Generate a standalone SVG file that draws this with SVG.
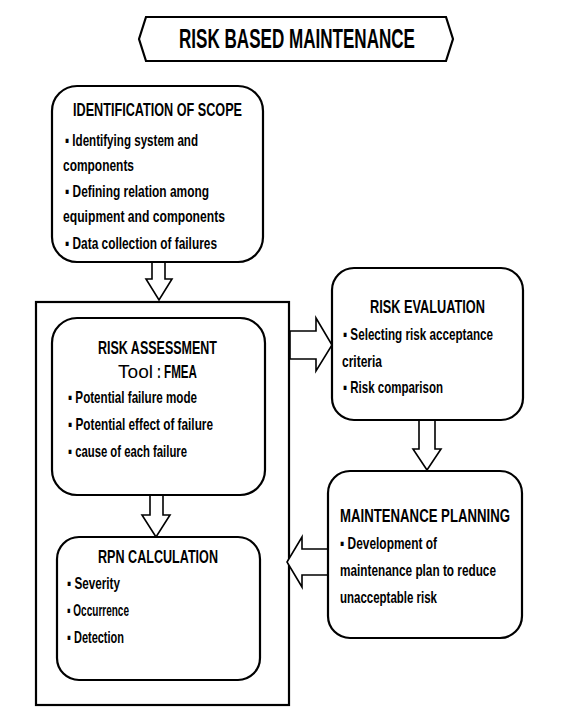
<svg xmlns="http://www.w3.org/2000/svg" width="573" height="715" viewBox="0 0 573 715">
<style>
.box{fill:#fff;stroke:#000;stroke-width:2.2}
.arr{fill:#fff;stroke:#000;stroke-width:1.6;stroke-linejoin:miter}
text{font-family:"Liberation Sans",Arial,sans-serif;font-weight:bold;fill:#000}
.h{font-size:17.5px}
.t{font-size:17px}
.n{font-weight:normal}
</style>
<rect width="573" height="715" fill="#fff"/>
<g id="title">
<polygon class="box" points="139,39 146,17 446,17 453,39 446,61 146,61"/>
<text x="179" y="48" font-size="27" textLength="236" lengthAdjust="spacingAndGlyphs">RISK BASED MAINTENANCE</text>
</g>
<g id="container">
<rect class="box" x="36" y="302" width="253" height="403"/>
</g>
<g id="connectors">
<polygon class="arr" points="152,262 165,262 165,279 172,279 159,300 146,279 152,279"/>
<polygon class="arr" points="150,495 163,495 163,515 170,515 156,537 142,515 150,515"/>
<polygon class="arr" points="290,331 316,331 316,318 332,345 316,371 316,359 290,359"/>
<polygon class="arr" points="419,420 435,420 435,449 441,449 427,470 413,449 419,449"/>
<polygon class="arr" points="328,549 302,549 302,537 287,562 302,587 302,575 328,575"/>
</g>
<g id="identification">
<rect class="box" x="52" y="86" width="211" height="176" rx="25" ry="25"/>
<text class="h" x="73" y="116" textLength="169" lengthAdjust="spacingAndGlyphs">IDENTIFICATION OF SCOPE</text>
<text class="t" x="65" y="146" textLength="133" lengthAdjust="spacingAndGlyphs">▪ Identifying system and</text>
<text class="t" x="63" y="171" textLength="71" lengthAdjust="spacingAndGlyphs">components</text>
<text class="t" x="65" y="197" textLength="144" lengthAdjust="spacingAndGlyphs">▪ Defining relation among</text>
<text class="t" x="63" y="222" textLength="162" lengthAdjust="spacingAndGlyphs">equipment and components</text>
<text class="t" x="65" y="249" textLength="152" lengthAdjust="spacingAndGlyphs">▪ Data collection of failures</text>
</g>
<g id="risk-assessment">
<rect class="box" x="52" y="318" width="213" height="177" rx="25" ry="25"/>
<text class="h" x="98" y="354" textLength="119" lengthAdjust="spacingAndGlyphs">RISK ASSESSMENT</text>
<text class="n" x="118" y="378" font-size="18" textLength="35" lengthAdjust="spacingAndGlyphs">Tool</text>
<text x="157" y="378" font-size="18" textLength="40" lengthAdjust="spacingAndGlyphs">: FMEA</text>
<text class="t" x="68" y="403" textLength="129" lengthAdjust="spacingAndGlyphs">▪ Potential failure mode</text>
<text class="t" x="68" y="430" textLength="145" lengthAdjust="spacingAndGlyphs">▪ Potential effect of failure</text>
<text class="t" x="68" y="457" textLength="119" lengthAdjust="spacingAndGlyphs">▪ cause of each failure</text>
</g>
<g id="rpn-calculation">
<rect class="box" x="57" y="537" width="203" height="143" rx="22" ry="22"/>
<text class="h" x="98" y="563" textLength="120" lengthAdjust="spacingAndGlyphs">RPN CALCULATION</text>
<text class="t" x="67" y="589" textLength="53" lengthAdjust="spacingAndGlyphs">▪ Severity</text>
<text class="t" x="67" y="616" textLength="62" lengthAdjust="spacingAndGlyphs">▪ Occurrence</text>
<text class="t" x="67" y="643" textLength="57" lengthAdjust="spacingAndGlyphs">▪ Detection</text>
</g>
<g id="risk-evaluation">
<rect class="box" x="332" y="268" width="191" height="152" rx="22" ry="22"/>
<text class="h" x="370" y="313" textLength="115" lengthAdjust="spacingAndGlyphs">RISK EVALUATION</text>
<text class="t" x="343" y="340" textLength="150" lengthAdjust="spacingAndGlyphs">▪ Selecting risk acceptance</text>
<text class="t" x="342" y="367" textLength="40" lengthAdjust="spacingAndGlyphs">criteria</text>
<text class="t" x="343" y="393" textLength="100" lengthAdjust="spacingAndGlyphs">▪ Risk comparison</text>
</g>
<g id="maintenance-planning">
<rect class="box" x="328" y="471" width="194" height="167" rx="22" ry="22"/>
<text class="h" x="340" y="522" textLength="170" lengthAdjust="spacingAndGlyphs">MAINTENANCE PLANNING</text>
<text class="t" x="340" y="549" textLength="97" lengthAdjust="spacingAndGlyphs">▪ Development of</text>
<text class="t" x="340" y="576" textLength="156" lengthAdjust="spacingAndGlyphs">maintenance plan to reduce</text>
<text class="t" x="340" y="603" textLength="97" lengthAdjust="spacingAndGlyphs">unacceptable risk</text>
</g>
</svg>
